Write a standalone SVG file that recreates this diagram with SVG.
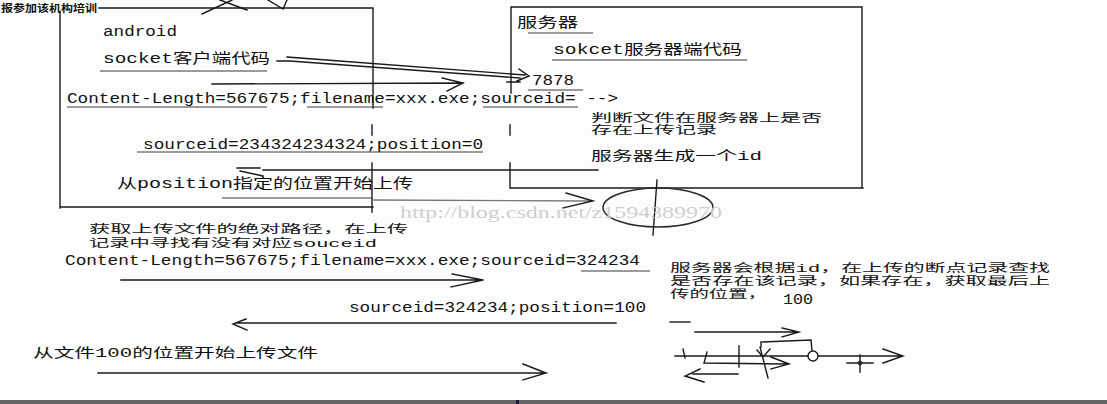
<svg xmlns="http://www.w3.org/2000/svg" width="1107" height="404" viewBox="0 0 1107 404">
<style>
.ln{stroke:#1a1a1a;stroke-width:1.4;fill:none;stroke-linecap:square}
.ul{stroke:#3a3a3a;stroke-width:1.2;fill:none}
.gl{stroke:#777;stroke-width:1.3;fill:none}
.t{font-family:"Liberation Mono","Noto Sans CJK SC",monospace;font-size:14px;fill:#111}
.c{font-family:"Liberation Mono","Noto Sans CJK SC",monospace;font-size:13px;fill:#111}
.s{font-family:"Liberation Mono","Noto Sans CJK SC",monospace;font-size:11.5px;fill:#111}
.wm{font-family:"Liberation Serif",serif;font-size:17px;fill:#cfcfcf}
</style>
<rect x="0" y="0" width="1107" height="404" fill="#fdfdfd"/>

<g id="header">
<text x="1" y="12" font-family="Noto Sans CJK SC, sans-serif" font-size="10" font-weight="bold" fill="#111" textLength="96" lengthAdjust="spacingAndGlyphs">报参加该机构培训</text>
<path class="ln" d="M202 14 L232 0 M220 0 L247 10 M268 0 L283 9 L287 0"/>
</g>

<g id="client">
<path class="ln" d="M99 8 H373 M60 12 V208 M60 207 H373 M373 8 V108 M372 125 V135 M372 163 V212"/>
<text class="t" x="103" y="36" textLength="74" lengthAdjust="spacingAndGlyphs">android</text>
<text class="t" x="103" y="63" textLength="167" lengthAdjust="spacingAndGlyphs">socket客户端代码</text>
<path class="ul" d="M100 71 H267"/>
</g>

<g id="server">
<path class="ln" d="M511 7 H862 V188 M510 188 H863 M511 7 V93 M510 125 V135 M510 163 V188"/>
<text class="t" x="517" y="27" textLength="61" lengthAdjust="spacingAndGlyphs">服务器</text>
<path class="ul" d="M528 33 H593"/>
<text class="t" x="553" y="54" textLength="189" lengthAdjust="spacingAndGlyphs">sokcet服务器端代码</text>
<path class="ul" d="M552 60 H747"/>
<text class="t" x="532" y="85" textLength="42" lengthAdjust="spacingAndGlyphs">7878</text>
<path class="ul" d="M528 90 H583"/>
<text class="s" x="591" y="121.5" textLength="231" lengthAdjust="spacingAndGlyphs">判断文件在服务器上是否</text>
<text class="s" x="591" y="134" textLength="126" lengthAdjust="spacingAndGlyphs">存在上传记录</text>
<text class="c" x="591" y="160" textLength="171" lengthAdjust="spacingAndGlyphs">服务器生成一个id</text>
</g>

<g id="record">
<ellipse cx="658" cy="207.5" rx="55" ry="19.5" fill="none" stroke="#2a2a2a" stroke-width="1.5"/>
<path class="ln" d="M657 180 L653 235"/>
</g>

<g id="messages">
<text class="t" x="67" y="103" textLength="551" lengthAdjust="spacingAndGlyphs">Content-Length=567675;filename=xxx.exe;sourceid= --&gt;</text>
<path class="ul" d="M67 107 H267 M307 107 H383 M483 107 H578"/>
<text class="t" x="143" y="149" textLength="340" lengthAdjust="spacingAndGlyphs">sourceid=234324234324;position=0</text>
<path class="ul" d="M137 152 H483"/>
<text class="t" x="117" y="188" textLength="296" lengthAdjust="spacingAndGlyphs">从position指定的位置开始上传</text>
<path class="ul" d="M222 198 H372"/>
<text class="wm" x="400" y="218" textLength="322" lengthAdjust="spacingAndGlyphs">http://blog.csdn.net/z1594389970</text>
<text class="s" x="89" y="233" textLength="319" lengthAdjust="spacingAndGlyphs">获取上传文件的绝对路径，在上传</text>
<text class="s" x="89" y="247" textLength="288" lengthAdjust="spacingAndGlyphs">记录中寻找有没有对应souceid</text>
<text class="t" x="65" y="265" textLength="575" lengthAdjust="spacingAndGlyphs">Content-Length=567675;filename=xxx.exe;sourceid=324234</text>
<path class="ul" d="M581 271 H650"/>
<text class="t" x="349" y="312" textLength="297" lengthAdjust="spacingAndGlyphs">sourceid=324234;position=100</text>
<text class="s" x="670" y="272" textLength="380" lengthAdjust="spacingAndGlyphs">服务器会根据id，在上传的断点记录查找</text>
<text class="s" x="670" y="285" textLength="380" lengthAdjust="spacingAndGlyphs">是否存在该记录，如果存在，获取最后上</text>
<text class="s" x="670" y="298" textLength="97" lengthAdjust="spacingAndGlyphs">传的位置，</text>
<text class="t" x="783" y="304" textLength="30" lengthAdjust="spacingAndGlyphs">100</text>
<text class="c" x="33" y="357" textLength="285" lengthAdjust="spacingAndGlyphs">从文件100的位置开始上传文件</text>
</g>

<g id="connectors">
<path class="ln" d="M212 84 L463 83 M442 78 L463 83 L447 91"/>
<path class="ln" d="M287 57 L525 75 M277 61 L290 61 L520 78 M519 69 L529 76 L517 81 M507 82 H520"/>
<path class="ln" d="M598 170 H263 M237 168 H260 M240 171 L263 176 M366 170 H378 M505 170 H517"/>
<path class="gl" d="M372 200 L590 201"/>
<path class="ln" d="M566 193 L593 201 L563 208"/>
<path class="ln" d="M121 280 H483 M452 274 L483 280 L451 287"/>
<path class="ln" d="M616 323 H236 M246 319 L233 324 L247 330"/>
<path class="ln" d="M98 373 H546 M523 364 L546 373 L523 380"/>
<path class="ln" d="M670 322 H690"/>
</g>

<g id="sketch">
<path class="ln" d="M675 356 H903 M883 349 L903 356 L883 363"/>
<path class="ln" d="M683 349 L685 358"/>
<path class="ln" d="M707 352 L704 363 L789 364 M771 357 L789 364 L771 369"/>
<path class="ln" d="M739 346 V367"/>
<path class="ln" d="M760 347 L768 378 M761 347 V342 L811 340 L812 351 M757 350 L763 357 L770 349"/>
<circle cx="813" cy="356" r="5" fill="#fff" stroke="#1a1a1a" stroke-width="1.4"/>
<path class="ln" d="M695 332 H799 M782 328 L799 332 L782 337"/>
<path class="ln" d="M693 374 H738 M700 369 L685 376 L704 382"/>
<path class="ln" d="M847 363 H873 M860 355 V372"/>
<circle cx="860" cy="363" r="2" fill="none" stroke="#1a1a1a" stroke-width="1"/>
</g>

<rect x="0" y="400" width="1107" height="4" fill="#666"/>
<rect x="516" y="400" width="3" height="4" fill="#1a1a3a"/>
</svg>
